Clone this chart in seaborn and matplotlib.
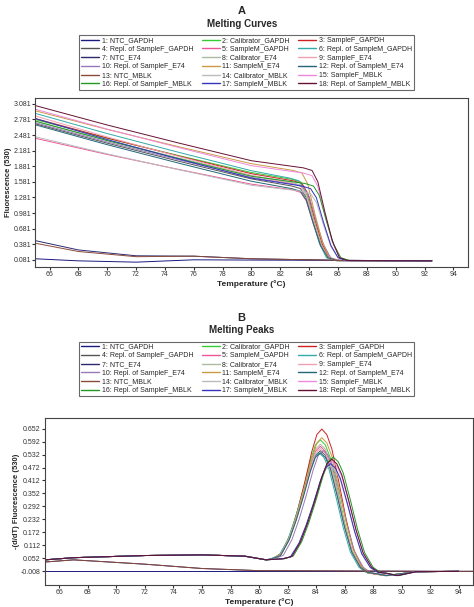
import numpy as np
import pandas as pd
import matplotlib
matplotlib.use("Agg")
import matplotlib.pyplot as plt
import seaborn as sns
from matplotlib.lines import Line2D

sns.set_style("white")
plt.rcParams['font.family'] = ['Liberation Sans', 'DejaVu Sans']

names = ["1: NTC_GAPDH", "2: Calibrator_GAPDH", "3: SampleF_GAPDH",
         "4: Repl. of SampleF_GAPDH", "5: SampleM_GAPDH", "6: Repl. of SampleM_GAPDH",
         "7: NTC_E74", "8: Calibrator_E74", "9: SampleF_E74",
         "10: Repl. of SampleF_E74", "11: SampleM_E74", "12: Repl. of SampleM_E74",
         "13: NTC_MBLK", "14: Calibrator_MBLK", "15: SampleF_MBLK",
         "16: Repl. of SampleF_MBLK", "17: SampleM_MBLK", "18: Repl. of SampleM_MBLK"]
colors = ["#1a1a80", "#33cc33", "#cc2222", "#555555", "#ee5599", "#33aaaa",
          "#2a2a70", "#aabba0", "#f0a0b0", "#9977bb", "#cc9944", "#226677",
          "#8a4a3a", "#bbbbbb", "#ee88dd", "#229922", "#3333bb", "#661133"]

# melting curve key values per series: fluorescence at 65C, at shoulder, Tm (C)
start_f = [0.10, 2.78, 2.80, 2.70, 2.42, 2.90, 0.45, 2.75, 2.85, 2.72, 2.95, 2.68,
           0.40, 2.45, 2.98, 2.75, 2.80, 3.05]
shoulder_f = [0.07, 1.58, 1.55, 1.45, 1.38, 1.60, 0.08, 1.52, 1.50, 1.48, 1.75, 1.40,
              0.08, 1.35, 1.70, 1.50, 1.45, 1.80]
tm = [0, 84.3, 84.4, 84.3, 84.3, 84.2, 0, 84.3, 84.3, 84.5, 84.4, 84.3,
      0, 85.0, 85.1, 85.2, 85.0, 85.1]
# melting peak heights (-dF/dT) per series
peak_h = [0, 0.60, 0.65, 0.55, 0.57, 0.54, 0, 0.58, 0.56, 0.55, 0.61, 0.54,
          0, 0.48, 0.50, 0.52, 0.49, 0.51]
# peak shape: offset from Tm (C) and fraction of peak height
peak_dx = [-3.4, -2.8, -2.2, -1.7, -1.2, -0.7, -0.35, 0.0, 0.35, 0.7, 1.2, 1.7, 2.2, 2.8, 3.3, 3.9]
peak_fr = [0.06, 0.12, 0.25, 0.42, 0.62, 0.84, 0.96, 1.0, 0.96, 0.86, 0.62, 0.36, 0.15, 0.02, -0.025, -0.035]

rows_a, rows_b = [], []
for i, n in enumerate(names):
    if tm[i] == 0:
        ta = [65, 68, 72, 76, 80, 86, 92.5]
        fa = [start_f[i], start_f[i]*0.6, start_f[i]*0.35, 0.15 if start_f[i] > 0.2 else 0.08,
              0.1 if start_f[i] > 0.2 else 0.075, 0.07, 0.06]
        tb = [65, 67, 72, 76, 80, 92.5, 95]
        fb = ([0.035, 0.045, 0.025, 0.005, -0.005, -0.008, -0.008] if start_f[i] > 0.2
              else [-0.008]*7)
    else:
        t = tm[i]
        ta = [65, 70, 75, 80, t-1.5, t-0.9, t-0.5, t, t+0.5, t+1.0, t+1.6, 92.5]
        s, h = start_f[i], shoulder_f[i]
        fa = [s, s-(s-h)*0.3, s-(s-h)*0.58, s-(s-h)*0.85, h+0.05, h, h*0.88, h*0.55,
              h*0.25, 0.12, 0.065, 0.06]
        p = peak_h[i]
        tb = [65, 67, 72, 76, 79, 80.5] + [t + d for d in peak_dx] + [t + 4.6, 91, 94]
        fb = [0.045, 0.055, 0.065, 0.068, 0.062, 0.045] + [max(p*f, 0.05) if d < 0 else p*f
              for d, f in zip(peak_dx, peak_fr)] + [-0.028, -0.01, -0.008]
    for x, y in zip(ta, fa):
        rows_a.append((n, x, y))
    for x, y in zip(tb, fb):
        rows_b.append((n, x, y))

dfa = pd.DataFrame(rows_a, columns=["series", "T", "F"])
dfb = pd.DataFrame(rows_b, columns=["series", "T", "F"])
pal = dict(zip(names, colors))

fig = plt.figure(figsize=(4.74, 6.07), dpi=100)
axa = fig.add_axes([0.074, 0.56, 0.913, 0.279])
axb = fig.add_axes([0.095, 0.036, 0.903, 0.275])

for ax, df, yt, ylim, ylab in [
        (axa, dfa, np.arange(0.081, 3.1, 0.3), (-0.06, 3.2), "Fluorescence (530)"),
        (axb, dfb, np.arange(-0.008, 0.66, 0.06), (-0.072, 0.70), "-(d/dT) Fluorescence (530)")]:
    sns.lineplot(data=df, x="T", y="F", hue="series", palette=pal, ax=ax,
                 linewidth=0.7, legend=False, sort=False, estimator=None)
    ax.set_xlim(65, 95)
    ax.set_ylim(*ylim)
    ax.set_xticks(range(66, 95, 2))
    ax.set_yticks(yt)
    ax.set_yticklabels([f"{v:.3f}" for v in yt])
    ax.tick_params(labelsize=5, length=2, pad=1, colors="#333333", left=True, bottom=True)
    ax.set_xlabel("Temperature (\u00b0C)", fontsize=6, fontweight="bold", labelpad=1)
    ax.set_ylabel(ylab, fontsize=5.5, fontweight="bold", labelpad=1)
    for sp in ax.spines.values():
        sp.set_color("#444444"); sp.set_linewidth(0.8)

handles = [Line2D([], [], color=c, lw=1) for c in colors]
for ytop, letter, title in [(0.99, "A", "Melting Curves"), (0.485, "B", "Melting Peaks")]:
    fig.text(0.51, ytop, letter, ha="center", va="top", fontsize=8, fontweight="bold")
    fig.text(0.51, ytop - 0.021, title, ha="center", va="top", fontsize=7, fontweight="bold")
    order = [i for c in range(3) for i in range(c, 18, 3)]
    leg = fig.legend([handles[i] for i in order], [names[i] for i in order], ncol=3,
                     loc="upper center", bbox_to_anchor=(0.52, ytop - 0.042), fontsize=5,
                     frameon=True, fancybox=False, edgecolor="#444444", handlelength=2.6,
                     columnspacing=1.2, labelspacing=0.25, borderpad=0.3, handletextpad=0.4)
    leg.get_frame().set_linewidth(0.8)

fig.savefig("out.png", dpi=100)
